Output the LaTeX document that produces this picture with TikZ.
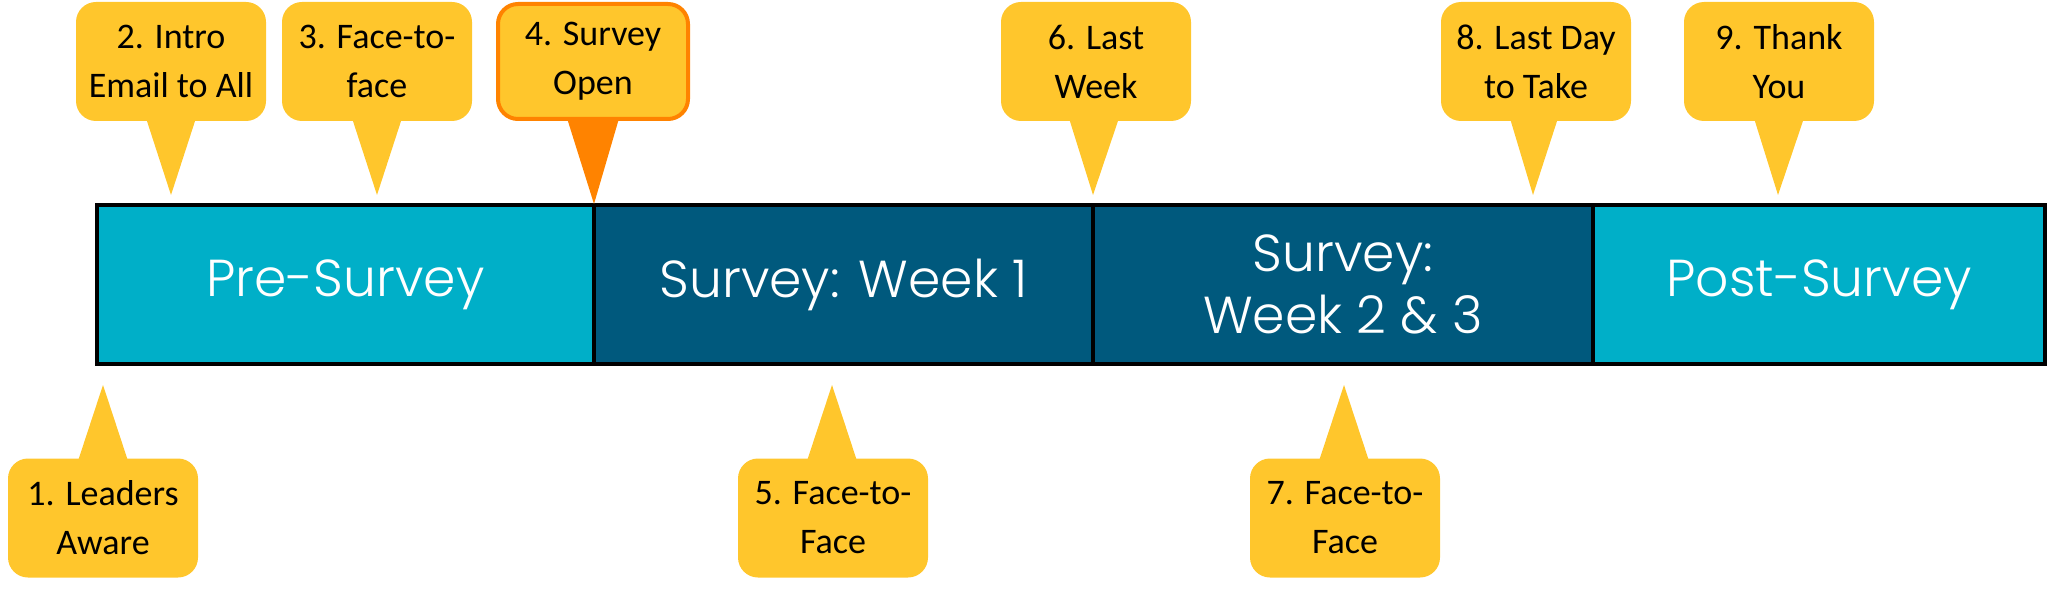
\documentclass[tikz,border=0pt]{standalone}
\usepackage{fontspec}
\setmainfont{Carlito}
\newfontfamily\barfont{Poppins Light}
\definecolor{callyel}{RGB}{255,198,44}
\definecolor{callorange}{RGB}{255,131,0}
\definecolor{barcyan}{RGB}{0,175,200}
\definecolor{bardark}{RGB}{0,89,125}
\begin{document}
\begin{tikzpicture}[x=1pt,y=1pt,
  seg/.style={draw=black,line width=4pt,minimum height=159pt,inner sep=0pt,outer sep=0pt,
    text=white,font=\barfont\fontsize{52}{62}\selectfont,align=center},
  callout/.style={fill=callyel,rounded corners=20pt,minimum width=190pt,minimum height=119pt,
    inner sep=0pt,outer sep=0pt,align=center,text=black,font=\fontsize{36}{49}\selectfont},
  ptr/.style={fill=callyel},
  hot/.style={draw=callorange,line width=4pt},
  hotptr/.style={fill=callorange}]
\useasboundingbox (0,0) rectangle (2048,590);
% timeline bar
\node[seg,fill=barcyan,minimum width=497pt] (s1) at (345.5,305.5) {Pre-Survey};
\node[seg,fill=bardark,minimum width=499pt] (s2) at (843.5,305.5) {Survey: Week 1};
\node[seg,fill=bardark,minimum width=500pt] (s3) at (1343,305.5) {Survey:\\Week 2 \& 3};
\node[seg,fill=barcyan,minimum width=452pt] (s4) at (1819,305.5) {Post-Survey};
% pointer tips
\coordinate (t1) at (103,205);
\coordinate (t2) at (171,395);
\coordinate (t3) at (377,395);
\coordinate (t4) at (594,386);
\coordinate (t5) at (832,205);
\coordinate (t6) at (1093,395);
\coordinate (t7) at (1344,205);
\coordinate (t8) at (1533,395);
\coordinate (t9) at (1778,395);
% top callouts
\fill[ptr] (145,475) -- (t2) -- (197,475) -- cycle;
\node[callout] (c2) at (171,528.5) {2. Intro\\Email to All};
\fill[ptr] (351,475) -- (t3) -- (403,475) -- cycle;
\node[callout] (c3) at (377,528.5) {3. Face-to-\\face};
\fill[hotptr] (566,475) -- (t4) -- (620,475) -- cycle;
\node[callout,hot,minimum width=190pt,minimum height=115pt] (c4) at (593,528.5) {4. Survey\\Open};
\fill[ptr] (1068,475) -- (t6) -- (1120,475) -- cycle;
\node[callout] (c6) at (1096,528.5) {6. Last\\Week};
\fill[ptr] (1509,475) -- (t8) -- (1559,475) -- cycle;
\node[callout] (c8) at (1536,528.5) {8. Last Day\\to Take};
\fill[ptr] (1753,475) -- (t9) -- (1805,475) -- cycle;
\node[callout] (c9) at (1779,528.5) {9. Thank\\You};
% bottom callouts
\fill[ptr] (77,126) -- (t1) -- (129,126) -- cycle;
\node[callout] (c1) at (103,72) {1. Leaders\\Aware};
\fill[ptr] (806,126) -- (t5) -- (858,126) -- cycle;
\node[callout] (c5) at (833,72) {5. Face-to-\\Face};
\fill[ptr] (1318,126) -- (t7) -- (1370,126) -- cycle;
\node[callout] (c7) at (1345,72) {7. Face-to-\\Face};
\end{tikzpicture}
\end{document}
